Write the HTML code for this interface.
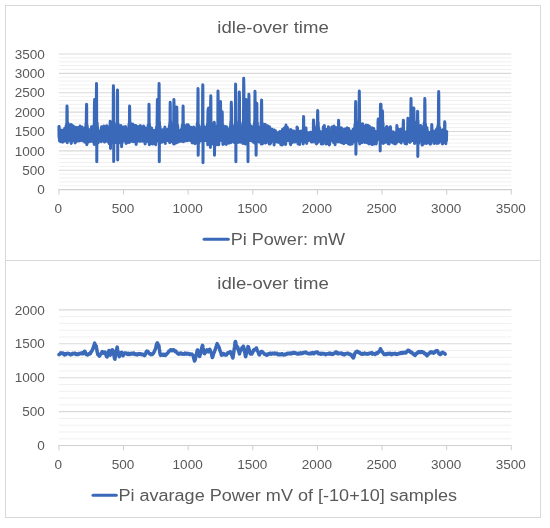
<!DOCTYPE html>
<html lang="en"><head><meta charset="utf-8"><title>idle-over time</title>
<style>html,body{margin:0;padding:0;background:#fff}body{width:550px;height:528px;overflow:hidden;font-family:"Liberation Sans",Arial,sans-serif}svg{display:block}</style>
</head><body>
<svg width="550" height="528" viewBox="0 0 550 528">
<rect width="550" height="528" fill="#fff"/>
<g fill="none" stroke="#d9d9d9" stroke-width="1">
<rect x="5.5" y="5.5" width="535" height="255"/>
<rect x="5.5" y="260.5" width="535" height="257"/>
</g>
<g stroke="#f0f0f0" stroke-width="1">
<line x1="58.9" x2="511.3" y1="185.73" y2="185.73"/>
<line x1="58.9" x2="511.3" y1="181.85" y2="181.85"/>
<line x1="58.9" x2="511.3" y1="177.98" y2="177.98"/>
<line x1="58.9" x2="511.3" y1="174.10" y2="174.10"/>
<line x1="58.9" x2="511.3" y1="166.35" y2="166.35"/>
<line x1="58.9" x2="511.3" y1="162.48" y2="162.48"/>
<line x1="58.9" x2="511.3" y1="158.61" y2="158.61"/>
<line x1="58.9" x2="511.3" y1="154.73" y2="154.73"/>
<line x1="58.9" x2="511.3" y1="146.98" y2="146.98"/>
<line x1="58.9" x2="511.3" y1="143.11" y2="143.11"/>
<line x1="58.9" x2="511.3" y1="139.23" y2="139.23"/>
<line x1="58.9" x2="511.3" y1="135.36" y2="135.36"/>
<line x1="58.9" x2="511.3" y1="127.61" y2="127.61"/>
<line x1="58.9" x2="511.3" y1="123.74" y2="123.74"/>
<line x1="58.9" x2="511.3" y1="119.86" y2="119.86"/>
<line x1="58.9" x2="511.3" y1="115.99" y2="115.99"/>
<line x1="58.9" x2="511.3" y1="108.24" y2="108.24"/>
<line x1="58.9" x2="511.3" y1="104.37" y2="104.37"/>
<line x1="58.9" x2="511.3" y1="100.49" y2="100.49"/>
<line x1="58.9" x2="511.3" y1="96.62" y2="96.62"/>
<line x1="58.9" x2="511.3" y1="88.87" y2="88.87"/>
<line x1="58.9" x2="511.3" y1="84.99" y2="84.99"/>
<line x1="58.9" x2="511.3" y1="81.12" y2="81.12"/>
<line x1="58.9" x2="511.3" y1="77.25" y2="77.25"/>
<line x1="58.9" x2="511.3" y1="69.50" y2="69.50"/>
<line x1="58.9" x2="511.3" y1="65.62" y2="65.62"/>
<line x1="58.9" x2="511.3" y1="61.75" y2="61.75"/>
<line x1="58.9" x2="511.3" y1="57.87" y2="57.87"/>
</g>
<g stroke="#d9d9d9" stroke-width="1.1">
<line x1="58.9" x2="511.3" y1="170.23" y2="170.23"/>
<line x1="58.9" x2="511.3" y1="150.86" y2="150.86"/>
<line x1="58.9" x2="511.3" y1="131.49" y2="131.49"/>
<line x1="58.9" x2="511.3" y1="112.11" y2="112.11"/>
<line x1="58.9" x2="511.3" y1="92.74" y2="92.74"/>
<line x1="58.9" x2="511.3" y1="73.37" y2="73.37"/>
<line x1="58.9" x2="511.3" y1="54.00" y2="54.00"/>
</g>
<g stroke="#d0d0d0" stroke-width="1.1" fill="none">
<line x1="58.4" x2="511.8" y1="189.6" y2="189.6"/>
<line x1="58.90" x2="58.90" y1="189.6" y2="194.4"/>
<line x1="123.53" x2="123.53" y1="189.6" y2="194.4"/>
<line x1="188.16" x2="188.16" y1="189.6" y2="194.4"/>
<line x1="252.79" x2="252.79" y1="189.6" y2="194.4"/>
<line x1="317.41" x2="317.41" y1="189.6" y2="194.4"/>
<line x1="382.04" x2="382.04" y1="189.6" y2="194.4"/>
<line x1="446.67" x2="446.67" y1="189.6" y2="194.4"/>
<line x1="511.30" x2="511.30" y1="189.6" y2="194.4"/>
</g>
<g stroke="#f0f0f0" stroke-width="1">
<line x1="58.9" x2="511.3" y1="438.76" y2="438.76"/>
<line x1="58.9" x2="511.3" y1="431.98" y2="431.98"/>
<line x1="58.9" x2="511.3" y1="425.19" y2="425.19"/>
<line x1="58.9" x2="511.3" y1="418.41" y2="418.41"/>
<line x1="58.9" x2="511.3" y1="404.84" y2="404.84"/>
<line x1="58.9" x2="511.3" y1="398.06" y2="398.06"/>
<line x1="58.9" x2="511.3" y1="391.27" y2="391.27"/>
<line x1="58.9" x2="511.3" y1="384.49" y2="384.49"/>
<line x1="58.9" x2="511.3" y1="370.92" y2="370.92"/>
<line x1="58.9" x2="511.3" y1="364.13" y2="364.13"/>
<line x1="58.9" x2="511.3" y1="357.35" y2="357.35"/>
<line x1="58.9" x2="511.3" y1="350.56" y2="350.56"/>
<line x1="58.9" x2="511.3" y1="336.99" y2="336.99"/>
<line x1="58.9" x2="511.3" y1="330.21" y2="330.21"/>
<line x1="58.9" x2="511.3" y1="323.42" y2="323.42"/>
<line x1="58.9" x2="511.3" y1="316.63" y2="316.63"/>
</g>
<g stroke="#d9d9d9" stroke-width="1.1">
<line x1="58.9" x2="511.3" y1="411.62" y2="411.62"/>
<line x1="58.9" x2="511.3" y1="377.70" y2="377.70"/>
<line x1="58.9" x2="511.3" y1="343.78" y2="343.78"/>
<line x1="58.9" x2="511.3" y1="309.85" y2="309.85"/>
</g>
<g stroke="#d0d0d0" stroke-width="1.1" fill="none">
<line x1="58.4" x2="511.8" y1="445.55" y2="445.55"/>
<line x1="58.90" x2="58.90" y1="445.55" y2="450.35"/>
<line x1="123.53" x2="123.53" y1="445.55" y2="450.35"/>
<line x1="188.16" x2="188.16" y1="445.55" y2="450.35"/>
<line x1="252.79" x2="252.79" y1="445.55" y2="450.35"/>
<line x1="317.41" x2="317.41" y1="445.55" y2="450.35"/>
<line x1="382.04" x2="382.04" y1="445.55" y2="450.35"/>
<line x1="446.67" x2="446.67" y1="445.55" y2="450.35"/>
<line x1="511.30" x2="511.30" y1="445.55" y2="450.35"/>
</g>
<g font-family="'Liberation Sans', Arial, sans-serif" fill="#595959" font-size="13.1">
<text x="44.9" y="194.30" text-anchor="end" textLength="7.55" lengthAdjust="spacingAndGlyphs">0</text>
<text x="44.9" y="174.93" text-anchor="end" textLength="22.6" lengthAdjust="spacingAndGlyphs">500</text>
<text x="44.9" y="155.56" text-anchor="end" textLength="30.2" lengthAdjust="spacingAndGlyphs">1000</text>
<text x="44.9" y="136.19" text-anchor="end" textLength="30.2" lengthAdjust="spacingAndGlyphs">1500</text>
<text x="44.9" y="116.81" text-anchor="end" textLength="30.2" lengthAdjust="spacingAndGlyphs">2000</text>
<text x="44.9" y="97.44" text-anchor="end" textLength="30.2" lengthAdjust="spacingAndGlyphs">2500</text>
<text x="44.9" y="78.07" text-anchor="end" textLength="30.2" lengthAdjust="spacingAndGlyphs">3000</text>
<text x="44.9" y="58.70" text-anchor="end" textLength="30.2" lengthAdjust="spacingAndGlyphs">3500</text>
<text x="44.9" y="450.25" text-anchor="end" textLength="7.55" lengthAdjust="spacingAndGlyphs">0</text>
<text x="44.9" y="416.32" text-anchor="end" textLength="22.6" lengthAdjust="spacingAndGlyphs">500</text>
<text x="44.9" y="382.40" text-anchor="end" textLength="30.2" lengthAdjust="spacingAndGlyphs">1000</text>
<text x="44.9" y="348.48" text-anchor="end" textLength="30.2" lengthAdjust="spacingAndGlyphs">1500</text>
<text x="44.9" y="314.55" text-anchor="end" textLength="30.2" lengthAdjust="spacingAndGlyphs">2000</text>
<text x="54.62" y="212.9" textLength="7.55" lengthAdjust="spacingAndGlyphs">0</text>
<text x="111.73" y="212.9" textLength="22.6" lengthAdjust="spacingAndGlyphs">500</text>
<text x="172.56" y="212.9" textLength="30.2" lengthAdjust="spacingAndGlyphs">1000</text>
<text x="237.19" y="212.9" textLength="30.2" lengthAdjust="spacingAndGlyphs">1500</text>
<text x="301.81" y="212.9" textLength="30.2" lengthAdjust="spacingAndGlyphs">2000</text>
<text x="366.44" y="212.9" textLength="30.2" lengthAdjust="spacingAndGlyphs">2500</text>
<text x="431.07" y="212.9" textLength="30.2" lengthAdjust="spacingAndGlyphs">3000</text>
<text x="495.70" y="212.9" textLength="30.2" lengthAdjust="spacingAndGlyphs">3500</text>
<text x="54.62" y="468.9" textLength="7.55" lengthAdjust="spacingAndGlyphs">0</text>
<text x="111.73" y="468.9" textLength="22.6" lengthAdjust="spacingAndGlyphs">500</text>
<text x="172.56" y="468.9" textLength="30.2" lengthAdjust="spacingAndGlyphs">1000</text>
<text x="237.19" y="468.9" textLength="30.2" lengthAdjust="spacingAndGlyphs">1500</text>
<text x="301.81" y="468.9" textLength="30.2" lengthAdjust="spacingAndGlyphs">2000</text>
<text x="366.44" y="468.9" textLength="30.2" lengthAdjust="spacingAndGlyphs">2500</text>
<text x="431.07" y="468.9" textLength="30.2" lengthAdjust="spacingAndGlyphs">3000</text>
<text x="495.70" y="468.9" textLength="30.2" lengthAdjust="spacingAndGlyphs">3500</text>
</g>
<g font-family="'Liberation Sans', Arial, sans-serif" fill="#595959">
<text x="217.3" y="32.7" font-size="16.7" textLength="111.5" lengthAdjust="spacingAndGlyphs">idle-over time</text>
<text x="217.3" y="288.7" font-size="16.7" textLength="111.5" lengthAdjust="spacingAndGlyphs">idle-over time</text>
<text x="230.7" y="244.6" font-size="15.8" textLength="114.3" lengthAdjust="spacingAndGlyphs">Pi Power: mW</text>
<text x="118.4" y="500.6" font-size="15.8" textLength="338.6" lengthAdjust="spacingAndGlyphs">Pi avarage Power mV of [-10+10] samples</text>
</g>
<g fill="none" stroke="#3b69ba" stroke-linejoin="round" stroke-linecap="round">
<path stroke-width="3" d="M58.9,126.4 59.0,137.1 59.2,126.4 59.3,139.1 59.4,131.2 59.5,140.9 59.7,131.6 59.8,140.0 59.9,134.1 60.1,140.6 60.2,130.1 60.3,140.3 60.5,130.1 60.6,141.7 60.7,131.6 60.8,140.6 61.0,132.6 61.1,138.4 61.2,132.4 61.4,131.2 61.5,130.2 61.6,131.0 61.7,133.8 61.9,139.8 62.0,133.5 62.1,138.7 62.3,133.2 62.4,137.9 62.5,133.0 62.6,142.3 62.8,130.3 62.9,141.0 63.0,132.8 63.2,139.6 63.3,131.4 63.4,140.5 63.6,130.8 63.7,137.0 63.8,131.1 63.9,136.8 64.1,132.8 64.2,141.3 64.3,131.3 64.5,140.0 64.6,128.4 64.7,140.3 64.8,130.8 65.0,140.6 65.1,131.0 65.2,140.2 65.4,130.0 65.5,138.4 65.6,133.9 65.8,141.1 65.9,127.9 66.0,141.0 66.1,125.8 66.3,141.1 66.4,125.8 66.5,137.1 66.7,123.3 66.8,141.0 66.9,112.0 67.0,106.1 67.2,110.5 67.3,142.8 67.4,123.5 67.6,139.0 67.7,122.7 67.8,137.6 67.9,123.1 68.1,135.8 68.2,123.4 68.3,140.1 68.5,126.0 68.6,134.8 68.7,127.2 68.9,139.2 69.0,126.6 69.1,136.5 69.2,131.2 69.4,138.4 69.5,127.6 69.6,140.3 69.8,126.7 69.9,139.9 70.0,126.8 70.1,141.1 70.3,127.0 70.4,140.6 70.5,126.9 70.7,138.8 70.8,130.6 70.9,141.0 71.1,124.6 71.2,143.5 71.3,125.5 71.4,143.0 71.6,124.8 71.7,138.5 71.8,132.4 72.0,140.8 72.1,129.1 72.2,137.6 72.3,127.2 72.5,138.0 72.6,127.5 72.7,140.7 72.9,131.3 73.0,138.7 73.1,126.4 73.2,139.8 73.4,126.0 73.5,137.8 73.6,127.8 73.8,137.1 73.9,131.2 74.0,141.1 74.2,128.2 74.3,138.0 74.4,133.3 74.5,137.7 74.7,128.7 74.8,141.3 74.9,129.3 75.1,142.9 75.2,128.7 75.3,138.7 75.4,127.8 75.6,137.2 75.7,130.1 75.8,140.1 76.0,132.5 76.1,140.5 76.2,127.2 76.3,138.6 76.5,131.5 76.6,138.6 76.7,127.8 76.9,139.8 77.0,132.7 77.1,141.3 77.3,132.0 77.4,140.9 77.5,132.1 77.6,136.7 77.8,129.7 77.9,140.6 78.0,133.4 78.2,129.1 78.3,127.5 78.4,128.7 78.5,128.2 78.7,138.4 78.8,127.8 78.9,139.7 79.1,130.0 79.2,141.0 79.3,134.1 79.5,139.1 79.6,131.1 79.7,137.1 79.8,130.3 80.0,140.7 80.1,126.0 80.2,139.2 80.4,129.3 80.5,140.1 80.6,127.5 80.7,139.6 80.9,134.5 81.0,140.2 81.1,133.8 81.3,140.1 81.4,133.5 81.5,138.2 81.6,134.6 81.8,139.5 81.9,134.6 82.0,128.8 82.2,127.1 82.3,128.3 82.4,131.8 82.6,139.7 82.7,133.3 82.8,140.9 82.9,132.7 83.1,140.7 83.2,133.4 83.3,140.7 83.5,135.3 83.6,140.7 83.7,133.1 83.8,137.7 84.0,132.0 84.1,141.3 84.2,132.1 84.4,138.5 84.5,133.3 84.6,139.0 84.8,135.2 84.9,142.2 85.0,128.2 85.1,139.8 85.3,128.0 85.4,140.2 85.5,127.0 85.7,139.7 85.8,126.1 85.9,140.2 86.0,123.0 86.2,138.3 86.3,120.2 86.4,110.5 86.6,104.2 86.7,108.9 86.8,144.8 86.9,141.4 87.1,125.3 87.2,143.8 87.3,126.4 87.5,141.0 87.6,128.2 87.7,140.6 87.9,132.4 88.0,139.2 88.1,132.2 88.2,141.5 88.4,134.6 88.5,138.7 88.6,134.5 88.8,141.5 88.9,130.5 89.0,141.6 89.1,132.9 89.3,139.3 89.4,131.5 89.5,138.3 89.7,129.8 89.8,141.8 89.9,130.4 90.1,140.6 90.2,131.6 90.3,139.8 90.4,129.5 90.6,136.7 90.7,131.3 90.8,137.8 91.0,130.6 91.1,140.7 91.2,130.3 91.3,136.6 91.5,126.8 91.6,139.3 91.7,127.0 91.9,140.8 92.0,126.8 92.1,140.8 92.2,126.9 92.4,141.5 92.5,131.1 92.6,139.6 92.8,130.5 92.9,138.7 93.0,134.7 93.2,141.6 93.3,132.9 93.4,141.9 93.5,128.0 93.7,140.1 93.8,125.9 93.9,138.4 94.1,124.2 94.2,144.4 94.3,124.9 94.4,106.7 94.6,99.5 94.7,104.9 94.8,119.0 95.0,138.6 95.1,123.4 95.2,139.7 95.4,126.1 95.5,141.1 95.6,127.0 95.7,143.6 95.9,124.8 96.0,142.6 96.1,125.8 96.3,142.7 96.4,93.8 96.5,83.4 96.6,91.2 96.8,161.8 96.9,123.7 97.0,140.2 97.2,122.7 97.3,140.4 97.4,125.8 97.5,140.4 97.7,128.0 97.8,142.0 97.9,133.4 98.1,143.1 98.2,133.5 98.3,139.8 98.5,134.1 98.6,140.0 98.7,135.4 98.8,141.3 99.0,132.8 99.1,138.2 99.2,132.5 99.4,137.8 99.5,132.4 99.6,139.6 99.7,131.0 99.9,138.6 100.0,131.3 100.1,137.2 100.3,132.6 100.4,139.3 100.5,132.4 100.7,139.3 100.8,130.7 100.9,141.6 101.0,136.2 101.2,141.7 101.3,133.5 101.4,128.4 101.6,126.7 101.7,128.0 101.8,133.3 101.9,139.7 102.1,128.6 102.2,137.6 102.3,128.3 102.5,137.1 102.6,131.0 102.7,140.3 102.8,130.2 103.0,140.4 103.1,126.8 103.2,140.1 103.4,128.8 103.5,137.8 103.6,128.3 103.8,138.9 103.9,126.0 104.0,141.3 104.1,126.3 104.3,142.0 104.4,130.7 104.5,140.9 104.7,134.3 104.8,142.1 104.9,129.8 105.0,140.9 105.2,132.1 105.3,128.8 105.4,127.1 105.6,128.3 105.7,134.9 105.8,137.4 105.9,131.4 106.1,139.9 106.2,133.9 106.3,135.9 106.5,131.0 106.6,141.1 106.7,125.7 106.9,137.7 107.0,126.1 107.1,140.3 107.2,132.3 107.4,138.9 107.5,128.4 107.6,137.2 107.8,129.4 107.9,141.5 108.0,128.1 108.1,140.2 108.3,132.5 108.4,142.2 108.5,131.8 108.7,142.3 108.8,132.2 108.9,142.3 109.1,132.4 109.2,143.8 109.3,130.1 109.4,143.3 109.6,135.3 109.7,142.2 109.8,131.4 110.0,142.5 110.1,124.1 110.2,121.3 110.3,123.4 110.5,148.6 110.6,133.8 110.7,138.6 110.9,132.3 111.0,140.9 111.1,133.7 111.2,140.3 111.4,130.8 111.5,140.2 111.6,131.8 111.8,140.0 111.9,132.8 112.0,142.3 112.2,130.8 112.3,138.6 112.4,127.1 112.5,141.0 112.7,125.1 112.8,139.7 112.9,122.8 113.1,141.2 113.2,118.9 113.3,95.7 113.4,85.8 113.6,93.3 113.7,161.4 113.8,138.9 114.0,124.8 114.1,140.1 114.2,126.4 114.4,141.2 114.5,126.8 114.6,139.7 114.7,135.1 114.9,138.9 115.0,133.0 115.1,140.2 115.3,133.3 115.4,141.9 115.5,133.7 115.6,142.4 115.8,134.3 115.9,141.8 116.0,135.0 116.2,139.9 116.3,128.2 116.4,140.1 116.5,125.6 116.7,138.4 116.8,123.1 116.9,139.0 117.1,122.4 117.2,140.4 117.3,99.1 117.5,90.0 117.6,96.8 117.7,159.9 117.8,122.7 118.0,140.6 118.1,123.7 118.2,139.1 118.4,127.1 118.5,143.1 118.6,128.6 118.7,143.2 118.9,134.8 119.0,139.3 119.1,134.3 119.3,142.5 119.4,130.1 119.5,141.2 119.7,131.8 119.8,141.8 119.9,130.3 120.0,140.8 120.2,130.1 120.3,140.2 120.4,129.9 120.6,140.5 120.7,127.3 120.8,139.0 120.9,125.6 121.1,140.9 121.2,130.5 121.3,138.8 121.5,130.2 121.6,146.7 121.7,131.5 121.8,137.0 122.0,133.6 122.1,142.0 122.2,131.9 122.4,142.6 122.5,131.6 122.6,141.4 122.8,134.8 122.9,141.4 123.0,133.5 123.1,141.2 123.3,135.5 123.4,128.8 123.5,127.1 123.7,128.3 123.8,134.0 123.9,137.8 124.0,132.6 124.2,140.2 124.3,132.7 124.4,137.6 124.6,132.6 124.7,139.8 124.8,131.7 125.0,140.3 125.1,129.4 125.2,140.8 125.3,131.6 125.5,137.8 125.6,126.6 125.7,138.1 125.9,130.3 126.0,143.6 126.1,129.2 126.2,143.6 126.4,130.2 126.5,139.1 126.6,131.0 126.8,140.3 126.9,135.1 127.0,142.7 127.1,132.0 127.3,142.5 127.4,132.6 127.5,139.6 127.7,132.2 127.8,139.4 127.9,129.4 128.1,139.5 128.2,129.9 128.3,140.7 128.4,128.7 128.6,139.5 128.7,127.3 128.8,142.6 129.0,123.9 129.1,141.0 129.2,125.9 129.3,142.6 129.5,112.0 129.6,106.1 129.7,110.5 129.9,139.3 130.0,121.7 130.1,141.8 130.2,122.6 130.4,137.8 130.5,127.7 130.6,137.5 130.8,128.6 130.9,137.6 131.0,130.2 131.2,137.3 131.3,128.5 131.4,137.6 131.5,128.3 131.7,139.8 131.8,127.1 131.9,141.2 132.1,127.3 132.2,141.0 132.3,130.7 132.4,136.2 132.6,130.9 132.7,141.3 132.8,124.1 133.0,141.7 133.1,126.0 133.2,138.2 133.4,125.8 133.5,135.5 133.6,124.9 133.7,138.8 133.9,128.5 134.0,137.0 134.1,128.6 134.3,140.9 134.4,128.7 134.5,141.6 134.6,125.6 134.8,141.4 134.9,125.4 135.0,140.2 135.2,125.6 135.3,138.9 135.4,127.9 135.5,140.6 135.7,126.8 135.8,140.6 135.9,125.6 136.1,144.4 136.2,128.6 136.3,144.3 136.5,128.4 136.6,138.3 136.7,127.5 136.8,140.5 137.0,128.2 137.1,137.1 137.2,128.7 137.4,140.6 137.5,128.6 137.6,137.8 137.7,126.6 137.9,140.8 138.0,126.9 138.1,139.0 138.3,129.1 138.4,140.8 138.5,129.6 138.7,139.3 138.8,129.1 138.9,141.2 139.0,127.9 139.2,139.8 139.3,129.5 139.4,138.6 139.6,128.1 139.7,140.5 139.8,132.7 139.9,141.2 140.1,125.8 140.2,138.7 140.3,130.9 140.5,141.3 140.6,125.7 140.7,138.5 140.8,130.7 141.0,137.2 141.1,130.8 141.2,141.0 141.4,130.1 141.5,128.8 141.6,127.1 141.8,128.3 141.9,129.0 142.0,139.0 142.1,131.9 142.3,141.3 142.4,129.5 142.5,140.6 142.7,132.7 142.8,140.9 142.9,132.6 143.0,140.5 143.2,134.5 143.3,138.9 143.4,134.8 143.6,140.7 143.7,126.0 143.8,136.1 144.0,126.9 144.1,136.4 144.2,132.0 144.3,139.9 144.5,131.8 144.6,142.0 144.7,129.8 144.9,142.9 145.0,131.4 145.1,144.1 145.2,132.7 145.4,129.4 145.5,127.9 145.6,129.0 145.8,135.2 145.9,138.6 146.0,134.1 146.1,139.5 146.3,133.8 146.4,140.5 146.5,133.0 146.7,141.3 146.8,133.9 146.9,141.3 147.1,132.1 147.2,141.5 147.3,135.7 147.4,140.7 147.6,132.7 147.7,140.1 147.8,127.9 148.0,138.8 148.1,125.3 148.2,140.1 148.3,126.2 148.5,140.0 148.6,123.9 148.7,140.7 148.9,110.5 149.0,104.2 149.1,108.9 149.3,144.8 149.4,123.4 149.5,140.9 149.6,124.8 149.8,142.7 149.9,127.1 150.0,141.1 150.2,128.6 150.3,143.9 150.4,137.1 150.5,140.9 150.7,132.7 150.8,139.9 150.9,129.8 151.1,140.5 151.2,131.1 151.3,140.2 151.4,130.3 151.6,140.5 151.7,128.0 151.8,135.9 152.0,130.7 152.1,141.4 152.2,130.6 152.4,141.3 152.5,132.3 152.6,144.0 152.7,133.2 152.9,144.1 153.0,131.3 153.1,141.8 153.3,130.4 153.4,138.4 153.5,130.8 153.6,137.5 153.8,132.5 153.9,141.2 154.0,133.6 154.2,141.6 154.3,133.0 154.4,140.2 154.6,130.7 154.7,138.7 154.8,130.6 154.9,138.2 155.1,136.0 155.2,140.5 155.3,136.3 155.5,142.2 155.6,135.0 155.7,144.7 155.8,131.4 156.0,137.7 156.1,130.3 156.2,141.0 156.4,128.1 156.5,141.2 156.6,126.7 156.7,139.7 156.9,125.9 157.0,140.5 157.1,121.2 157.3,106.7 157.4,99.5 157.5,104.9 157.7,123.6 157.8,139.3 157.9,122.3 158.0,138.6 158.2,124.8 158.3,141.2 158.4,122.9 158.6,140.9 158.7,122.6 158.8,140.7 158.9,93.8 159.1,83.4 159.2,91.2 159.3,161.8 159.5,121.8 159.6,140.6 159.7,125.2 159.8,139.1 160.0,125.9 160.1,139.9 160.2,128.5 160.4,138.6 160.5,132.7 160.6,138.4 160.8,134.7 160.9,141.3 161.0,133.8 161.1,141.6 161.3,133.4 161.4,142.2 161.5,136.5 161.7,142.1 161.8,134.3 161.9,142.3 162.0,135.8 162.2,139.0 162.3,130.7 162.4,139.9 162.6,132.2 162.7,139.6 162.8,129.7 163.0,138.9 163.1,132.8 163.2,138.6 163.3,135.2 163.5,141.4 163.6,132.8 163.7,139.9 163.9,133.0 164.0,138.6 164.1,135.4 164.2,137.8 164.4,135.0 164.5,141.3 164.6,135.0 164.8,128.8 164.9,127.1 165.0,128.3 165.1,131.8 165.3,143.5 165.4,133.3 165.5,140.7 165.7,130.7 165.8,139.1 165.9,130.8 166.1,140.5 166.2,131.3 166.3,140.6 166.4,129.5 166.6,140.6 166.7,133.1 166.8,139.4 167.0,130.9 167.1,137.0 167.2,131.5 167.3,138.3 167.5,129.5 167.6,140.4 167.7,135.0 167.9,138.5 168.0,133.9 168.1,138.5 168.3,133.9 168.4,138.3 168.5,132.9 168.6,140.3 168.8,131.7 168.9,140.4 169.0,128.0 169.2,139.6 169.3,125.7 169.4,141.5 169.5,126.4 169.7,142.7 169.8,122.4 169.9,141.6 170.1,108.9 170.2,102.3 170.3,107.3 170.4,139.8 170.6,121.1 170.7,140.4 170.8,123.5 171.0,138.8 171.1,127.2 171.2,140.6 171.4,128.6 171.5,139.9 171.6,131.9 171.7,140.3 171.9,128.2 172.0,141.8 172.1,130.3 172.3,137.8 172.4,134.4 172.5,139.9 172.6,135.7 172.8,139.7 172.9,127.1 173.0,140.3 173.2,125.4 173.3,137.8 173.4,125.7 173.6,143.9 173.7,124.1 173.8,106.7 173.9,99.5 174.1,104.9 174.2,124.7 174.3,143.9 174.5,123.1 174.6,140.8 174.7,126.5 174.8,140.9 175.0,127.8 175.1,138.9 175.2,131.4 175.4,141.0 175.5,131.0 175.6,141.6 175.7,127.5 175.9,142.1 176.0,125.5 176.1,142.9 176.3,122.7 176.4,142.7 176.5,125.2 176.7,112.7 176.8,107.1 176.9,111.3 177.0,123.9 177.2,141.8 177.3,124.9 177.4,141.7 177.6,125.1 177.7,142.2 177.8,127.1 177.9,142.2 178.1,132.9 178.2,139.2 178.3,131.6 178.5,140.6 178.6,132.1 178.7,140.7 178.9,132.2 179.0,139.6 179.1,130.6 179.2,141.4 179.4,131.3 179.5,140.7 179.6,132.2 179.8,137.6 179.9,131.5 180.0,138.4 180.1,131.7 180.3,139.8 180.4,133.3 180.5,139.9 180.7,131.1 180.8,141.2 180.9,130.2 181.0,140.2 181.2,129.7 181.3,141.3 181.4,129.6 181.6,141.2 181.7,130.4 181.8,140.2 182.0,128.2 182.1,139.8 182.2,125.5 182.3,140.9 182.5,126.0 182.6,136.4 182.7,124.1 182.9,140.6 183.0,112.0 183.1,106.1 183.2,110.5 183.4,141.8 183.5,125.0 183.6,138.3 183.8,124.6 183.9,139.8 184.0,125.8 184.2,139.2 184.3,128.0 184.4,140.4 184.5,125.7 184.7,134.9 184.8,126.9 184.9,140.6 185.1,127.9 185.2,141.0 185.3,128.1 185.4,140.0 185.6,129.9 185.7,140.3 185.8,127.7 186.0,135.0 186.1,130.6 186.2,134.5 186.3,130.5 186.5,139.7 186.6,129.2 186.7,140.1 186.9,126.0 187.0,140.8 187.1,124.8 187.3,137.6 187.4,129.5 187.5,140.7 187.6,125.6 187.8,140.2 187.9,130.4 188.0,126.9 188.2,124.8 188.3,126.4 188.4,132.6 188.5,137.4 188.7,125.7 188.8,140.3 188.9,125.9 189.1,139.2 189.2,126.5 189.3,138.2 189.4,128.2 189.6,139.8 189.7,131.5 189.8,136.5 190.0,131.3 190.1,140.5 190.2,131.7 190.4,138.7 190.5,127.4 190.6,140.3 190.7,129.4 190.9,139.0 191.0,130.0 191.1,141.1 191.3,127.3 191.4,139.6 191.5,128.7 191.6,140.4 191.8,132.7 191.9,139.4 192.0,132.1 192.2,143.0 192.3,130.9 192.4,141.5 192.6,131.4 192.7,142.0 192.8,128.2 192.9,140.7 193.1,129.3 193.2,140.8 193.3,130.4 193.5,142.4 193.6,129.2 193.7,139.2 193.8,127.1 194.0,142.0 194.1,130.0 194.2,142.9 194.4,130.8 194.5,138.6 194.6,129.8 194.7,141.4 194.9,132.0 195.0,143.7 195.1,136.8 195.3,140.2 195.4,132.8 195.5,141.9 195.7,135.0 195.8,142.8 195.9,132.9 196.0,142.2 196.2,132.7 196.3,142.8 196.4,133.4 196.6,141.1 196.7,132.3 196.8,140.8 196.9,127.0 197.1,140.4 197.2,124.0 197.3,140.4 197.5,122.3 197.6,138.1 197.7,123.3 197.9,97.9 198.0,88.5 198.1,95.5 198.2,155.2 198.4,139.7 198.5,126.1 198.6,140.4 198.8,125.2 198.9,141.7 199.0,128.1 199.1,142.4 199.3,135.5 199.4,140.5 199.5,133.5 199.7,139.0 199.8,134.6 199.9,140.7 200.0,131.9 200.2,139.3 200.3,133.3 200.4,140.6 200.6,134.5 200.7,137.9 200.8,133.9 201.0,140.2 201.1,134.7 201.2,138.6 201.3,133.6 201.5,140.4 201.6,128.7 201.7,139.6 201.9,126.5 202.0,138.0 202.1,126.2 202.2,139.8 202.4,120.3 202.5,138.7 202.6,94.8 202.8,84.7 202.9,92.3 203.0,162.8 203.2,124.7 203.3,139.1 203.4,126.3 203.5,139.8 203.7,126.5 203.8,139.1 203.9,128.3 204.1,140.6 204.2,132.6 204.3,136.8 204.4,133.2 204.6,140.4 204.7,133.5 204.8,140.0 205.0,134.5 205.1,139.0 205.2,134.9 205.3,138.9 205.5,132.6 205.6,139.4 205.7,134.2 205.9,139.9 206.0,135.4 206.1,140.6 206.3,126.9 206.4,136.3 206.5,129.5 206.6,138.5 206.8,127.7 206.9,137.3 207.0,127.6 207.2,140.7 207.3,124.9 207.4,139.2 207.5,123.7 207.7,144.8 207.8,120.2 207.9,114.5 208.1,109.3 208.2,113.2 208.3,122.2 208.5,113.5 208.6,108.0 208.7,112.1 208.8,120.2 209.0,139.0 209.1,124.5 209.2,140.3 209.4,125.8 209.5,137.4 209.6,126.7 209.7,137.6 209.9,126.2 210.0,138.9 210.1,126.4 210.3,140.9 210.4,147.6 210.5,140.0 210.6,103.6 210.8,95.7 210.9,101.6 211.0,137.4 211.2,125.7 211.3,137.5 211.4,122.7 211.6,144.3 211.7,125.4 211.8,140.6 211.9,128.6 212.1,141.1 212.2,134.7 212.3,144.0 212.5,134.4 212.6,138.2 212.7,133.9 212.8,141.1 213.0,133.2 213.1,140.1 213.2,133.7 213.4,140.7 213.5,135.5 213.6,138.9 213.8,133.5 213.9,141.0 214.0,132.5 214.1,124.9 214.3,122.3 214.4,124.2 214.5,155.2 214.7,138.7 214.8,134.9 214.9,140.5 215.0,133.3 215.2,138.5 215.3,132.0 215.4,139.4 215.6,132.3 215.7,139.7 215.8,131.9 215.9,142.5 216.1,134.1 216.2,143.8 216.3,136.4 216.5,141.6 216.6,135.1 216.7,139.8 216.9,128.3 217.0,144.7 217.1,126.2 217.2,140.6 217.4,125.6 217.5,138.9 217.6,125.5 217.8,138.1 217.9,99.8 218.0,91.0 218.1,97.6 218.3,141.6 218.4,123.3 218.5,143.9 218.7,126.5 218.8,144.7 218.9,126.8 219.0,140.4 219.2,128.6 219.3,138.0 219.4,126.6 219.6,138.3 219.7,127.1 219.8,138.6 220.0,124.9 220.1,139.3 220.2,120.2 220.3,108.2 220.5,101.4 220.6,106.5 220.7,124.7 220.9,138.8 221.0,126.0 221.1,140.6 221.2,126.7 221.4,140.4 221.5,126.1 221.6,138.0 221.8,121.3 221.9,140.7 222.0,116.5 222.2,111.8 222.3,115.3 222.4,137.3 222.5,125.2 222.7,140.6 222.8,125.8 222.9,144.5 223.1,125.3 223.2,137.6 223.3,127.0 223.4,144.1 223.6,126.3 223.7,140.7 223.8,134.3 224.0,139.8 224.1,132.7 224.2,138.3 224.3,132.9 224.5,139.6 224.6,132.7 224.7,138.5 224.9,132.6 225.0,140.6 225.1,133.1 225.3,139.9 225.4,130.6 225.5,138.0 225.6,144.0 225.8,139.3 225.9,126.4 226.0,143.8 226.2,129.3 226.3,144.6 226.4,129.2 226.5,144.0 226.7,130.0 226.8,128.8 226.9,127.1 227.1,128.3 227.2,135.3 227.3,142.3 227.5,135.7 227.6,142.9 227.7,132.1 227.8,143.3 228.0,132.3 228.1,140.5 228.2,133.0 228.4,138.6 228.5,130.8 228.6,140.6 228.7,130.7 228.9,142.9 229.0,129.2 229.1,140.5 229.3,131.3 229.4,142.8 229.5,129.7 229.6,143.0 229.8,131.8 229.9,142.7 230.0,134.6 230.2,142.3 230.3,127.8 230.4,139.5 230.6,124.8 230.7,142.8 230.8,121.8 230.9,142.1 231.1,119.3 231.2,108.9 231.3,102.3 231.5,107.3 231.6,118.9 231.7,139.5 231.8,123.3 232.0,141.2 232.1,126.3 232.2,138.6 232.4,127.4 232.5,140.9 232.6,132.1 232.8,141.4 232.9,127.5 233.0,138.8 233.1,128.6 233.3,141.9 233.4,131.2 233.5,141.8 233.7,127.8 233.8,140.7 233.9,132.7 234.0,138.5 234.2,132.5 234.3,142.4 234.4,128.1 234.6,140.2 234.7,125.9 234.8,137.3 234.9,126.3 235.1,140.6 235.2,124.8 235.3,139.6 235.5,94.2 235.6,83.9 235.7,91.7 235.9,161.8 236.0,121.1 236.1,138.5 236.2,125.4 236.4,139.9 236.5,127.1 236.6,137.0 236.8,128.1 236.9,140.2 237.0,128.9 237.1,140.4 237.3,129.6 237.4,136.2 237.5,128.2 237.7,142.1 237.8,133.9 237.9,138.3 238.1,128.5 238.2,142.6 238.3,127.4 238.4,140.3 238.6,123.9 238.7,139.2 238.8,125.6 239.0,140.1 239.1,119.6 239.2,100.6 239.3,91.9 239.5,98.4 239.6,124.3 239.7,141.5 239.9,122.6 240.0,139.0 240.1,126.1 240.2,142.1 240.4,127.9 240.5,142.2 240.6,130.5 240.8,142.1 240.9,130.3 241.0,141.6 241.2,136.1 241.3,141.0 241.4,132.9 241.5,141.2 241.7,133.7 241.8,138.4 241.9,134.9 242.1,140.2 242.2,131.8 242.3,139.4 242.4,132.7 242.6,142.0 242.7,127.5 242.8,143.5 243.0,124.5 243.1,142.6 243.2,122.0 243.3,141.8 243.5,121.5 243.6,89.7 243.7,78.3 243.9,86.9 244.0,120.2 244.1,138.1 244.3,123.3 244.4,140.7 244.5,124.2 244.6,140.8 244.8,126.6 244.9,140.9 245.0,127.7 245.2,144.0 245.3,124.4 245.4,143.1 245.5,122.2 245.7,143.9 245.8,123.6 245.9,106.7 246.1,99.5 246.2,104.9 246.3,122.9 246.5,139.0 246.6,124.6 246.7,137.1 246.8,126.0 247.0,136.9 247.1,128.0 247.2,140.6 247.4,134.3 247.5,141.5 247.6,132.4 247.7,141.5 247.9,127.8 248.0,161.8 248.1,124.2 248.3,138.0 248.4,124.3 248.5,139.5 248.6,121.1 248.8,102.4 248.9,94.2 249.0,100.4 249.2,120.3 249.3,139.5 249.4,125.1 249.6,139.0 249.7,124.2 249.8,140.5 249.9,126.9 250.1,140.0 250.2,131.8 250.3,138.5 250.5,132.0 250.6,137.5 250.7,133.0 250.8,139.7 251.0,131.0 251.1,140.7 251.2,126.2 251.4,138.9 251.5,132.6 251.6,140.2 251.8,132.9 251.9,139.1 252.0,134.2 252.1,141.0 252.3,133.0 252.4,137.2 252.5,132.4 252.7,139.8 252.8,130.5 252.9,138.4 253.0,131.3 253.2,142.1 253.3,131.9 253.4,141.6 253.6,133.8 253.7,139.1 253.8,127.9 253.9,141.3 254.1,125.9 254.2,139.0 254.3,123.6 254.5,141.6 254.6,121.1 254.7,143.3 254.9,100.2 255.0,91.3 255.1,97.9 255.2,141.2 255.4,123.6 255.5,140.6 255.6,123.3 255.8,144.6 255.9,125.7 256.0,139.3 256.1,155.2 256.3,140.3 256.4,120.9 256.5,140.6 256.7,109.7 256.8,103.3 256.9,108.1 257.1,140.6 257.2,125.1 257.3,138.6 257.4,122.8 257.6,138.0 257.7,125.9 257.8,139.3 258.0,128.1 258.1,139.6 258.2,132.1 258.3,140.7 258.5,131.1 258.6,137.2 258.7,131.7 258.9,142.0 259.0,128.1 259.1,138.7 259.2,128.6 259.4,139.2 259.5,128.8 259.6,139.4 259.8,136.1 259.9,142.1 260.0,132.9 260.2,140.7 260.3,134.3 260.4,139.9 260.5,127.1 260.7,142.4 260.8,127.1 260.9,140.6 261.1,121.9 261.2,144.0 261.3,121.7 261.4,107.0 261.6,99.9 261.7,105.2 261.8,123.1 262.0,141.9 262.1,122.4 262.2,144.1 262.4,124.2 262.5,143.1 262.6,124.8 262.7,143.0 262.9,131.2 263.0,142.6 263.1,126.5 263.3,143.2 263.4,126.3 263.5,135.5 263.6,125.2 263.8,136.2 263.9,126.2 264.0,141.2 264.2,125.7 264.3,141.4 264.4,124.7 264.5,142.2 264.7,127.6 264.8,142.3 264.9,124.6 265.1,137.3 265.2,124.3 265.3,142.9 265.5,126.0 265.6,143.0 265.7,126.3 265.8,140.4 266.0,127.6 266.1,142.7 266.2,126.7 266.4,140.7 266.5,128.6 266.6,140.3 266.7,130.5 266.9,138.7 267.0,126.6 267.1,141.5 267.3,129.2 267.4,138.6 267.5,125.7 267.7,137.0 267.8,129.7 267.9,139.3 268.0,128.0 268.2,140.3 268.3,127.6 268.4,140.9 268.6,131.6 268.7,140.5 268.8,130.1 268.9,139.6 269.1,130.1 269.2,144.1 269.3,129.8 269.5,137.7 269.6,126.7 269.7,139.7 269.8,131.1 270.0,143.8 270.1,129.5 270.2,143.9 270.4,131.9 270.5,141.3 270.6,130.0 270.8,142.9 270.9,131.9 271.0,141.0 271.1,133.9 271.3,141.1 271.4,130.8 271.5,140.8 271.7,132.1 271.8,140.6 271.9,128.9 272.0,140.4 272.2,129.3 272.3,140.0 272.4,134.8 272.6,140.7 272.7,131.0 272.8,141.0 272.9,134.0 273.1,140.8 273.2,132.4 273.3,138.8 273.5,134.5 273.6,141.0 273.7,132.4 273.9,138.7 274.0,132.4 274.1,145.0 274.2,130.1 274.4,141.3 274.5,130.2 274.6,139.8 274.8,130.6 274.9,141.6 275.0,131.4 275.1,140.2 275.3,134.0 275.4,139.9 275.5,130.7 275.7,139.7 275.8,132.3 275.9,137.8 276.1,131.9 276.2,141.9 276.3,133.7 276.4,139.2 276.6,132.8 276.7,140.3 276.8,132.7 277.0,140.6 277.1,135.3 277.2,138.7 277.3,132.8 277.5,140.5 277.6,135.6 277.7,140.6 277.9,133.0 278.0,140.8 278.1,134.2 278.2,139.4 278.4,132.7 278.5,142.5 278.6,134.3 278.8,140.6 278.9,132.8 279.0,140.6 279.2,133.4 279.3,139.7 279.4,133.1 279.5,140.8 279.7,132.5 279.8,139.5 279.9,131.6 280.1,138.6 280.2,133.1 280.3,140.7 280.4,132.7 280.6,140.6 280.7,132.8 280.8,144.7 281.0,133.2 281.1,143.2 281.2,132.6 281.4,143.3 281.5,132.2 281.6,143.8 281.7,137.1 281.9,143.7 282.0,131.3 282.1,145.0 282.3,130.8 282.4,143.9 282.5,129.5 282.6,143.2 282.8,129.3 282.9,139.7 283.0,131.9 283.2,140.4 283.3,132.4 283.4,142.8 283.5,133.1 283.7,142.8 283.8,144.0 283.9,142.7 284.1,131.0 284.2,138.2 284.3,128.0 284.5,140.4 284.6,132.4 284.7,140.8 284.8,128.5 285.0,144.3 285.1,132.3 285.2,143.8 285.4,135.9 285.5,144.1 285.6,132.7 285.7,144.4 285.9,127.1 286.0,125.1 286.1,126.6 286.3,140.0 286.4,133.7 286.5,137.1 286.7,133.0 286.8,139.2 286.9,131.8 287.0,140.4 287.2,131.8 287.3,140.6 287.4,127.2 287.6,140.4 287.7,129.1 287.8,140.6 287.9,130.2 288.1,136.4 288.2,129.6 288.3,139.6 288.5,134.3 288.6,138.1 288.7,132.7 288.8,140.6 289.0,135.6 289.1,140.5 289.2,133.2 289.4,139.8 289.5,133.0 289.6,140.8 289.8,132.6 289.9,140.5 290.0,133.3 290.1,137.8 290.3,144.0 290.4,142.0 290.5,130.9 290.7,144.8 290.8,129.4 290.9,142.1 291.0,131.3 291.2,139.4 291.3,130.8 291.4,138.1 291.6,131.9 291.7,139.5 291.8,134.5 292.0,142.8 292.1,133.9 292.2,141.6 292.3,136.2 292.5,141.1 292.6,131.0 292.7,141.7 292.9,134.4 293.0,140.5 293.1,131.0 293.2,138.8 293.4,132.1 293.5,140.5 293.6,130.9 293.8,139.5 293.9,132.0 294.0,141.9 294.1,131.8 294.3,141.9 294.4,131.9 294.5,138.7 294.7,132.4 294.8,139.7 294.9,133.6 295.1,141.9 295.2,133.0 295.3,140.1 295.4,134.9 295.6,141.2 295.7,132.0 295.8,141.3 296.0,131.6 296.1,139.8 296.2,131.7 296.3,139.4 296.5,132.1 296.6,140.3 296.7,133.7 296.9,135.3 297.0,127.1 297.1,140.6 297.3,129.8 297.4,140.0 297.5,127.7 297.6,136.8 297.8,129.7 297.9,142.8 298.0,144.0 298.2,138.6 298.3,132.6 298.4,143.6 298.5,131.7 298.7,143.5 298.8,131.3 298.9,142.3 299.1,133.0 299.2,144.3 299.3,133.6 299.4,141.2 299.6,134.3 299.7,144.4 299.8,132.7 300.0,140.7 300.1,135.5 300.2,138.3 300.4,134.2 300.5,136.7 300.6,132.9 300.7,140.5 300.9,131.3 301.0,140.8 301.1,131.3 301.3,138.6 301.4,131.3 301.5,139.9 301.6,132.9 301.8,141.3 301.9,134.6 302.0,140.8 302.2,134.7 302.3,140.0 302.4,131.8 302.5,141.0 302.7,132.0 302.8,140.5 302.9,131.0 303.1,139.7 303.2,144.0 303.3,140.0 303.5,120.3 303.6,116.6 303.7,119.4 303.8,138.3 304.0,133.5 304.1,139.6 304.2,130.1 304.4,139.7 304.5,130.1 304.6,139.4 304.7,131.0 304.9,136.8 305.0,134.1 305.1,140.8 305.3,131.1 305.4,140.6 305.5,130.0 305.7,142.3 305.8,127.9 305.9,141.4 306.0,128.0 306.2,140.6 306.3,131.2 306.4,142.8 306.6,134.8 306.7,143.5 306.8,134.7 306.9,141.9 307.1,136.0 307.2,141.1 307.3,133.6 307.5,140.3 307.6,135.4 307.7,138.2 307.8,134.1 308.0,140.2 308.1,133.1 308.2,138.8 308.4,135.4 308.5,140.6 308.6,134.4 308.8,139.9 308.9,135.6 309.0,140.5 309.1,135.5 309.3,139.8 309.4,132.7 309.5,140.2 309.7,135.5 309.8,139.3 309.9,134.0 310.0,138.0 310.2,134.9 310.3,139.7 310.4,134.1 310.6,139.4 310.7,132.3 310.8,140.7 311.0,132.2 311.1,139.2 311.2,134.1 311.3,141.9 311.5,134.6 311.6,138.5 311.7,133.9 311.9,142.0 312.0,132.2 312.1,139.7 312.2,134.7 312.4,139.3 312.5,135.0 312.6,140.5 312.8,132.4 312.9,138.7 313.0,134.0 313.1,141.9 313.3,134.5 313.4,123.1 313.5,120.0 313.7,122.3 313.8,133.9 313.9,137.8 314.1,131.9 314.2,140.1 314.3,129.7 314.4,140.1 314.6,128.3 314.7,138.0 314.8,131.1 315.0,140.5 315.1,134.5 315.2,140.6 315.3,134.7 315.5,140.1 315.6,129.8 315.7,138.4 315.9,131.5 316.0,143.6 316.1,131.8 316.3,140.1 316.4,131.0 316.5,143.9 316.6,127.9 316.8,142.2 316.9,126.1 317.0,141.9 317.2,125.1 317.3,143.1 317.4,124.8 317.5,115.5 317.7,110.5 317.8,114.2 317.9,125.3 318.1,138.8 318.2,122.3 318.3,142.1 318.4,126.5 318.6,137.2 318.7,128.1 318.8,140.6 319.0,130.9 319.1,138.5 319.2,133.0 319.4,140.2 319.5,133.9 319.6,140.8 319.7,134.3 319.9,137.8 320.0,131.5 320.1,138.9 320.3,131.4 320.4,139.4 320.5,132.0 320.6,138.1 320.8,135.3 320.9,140.6 321.0,133.9 321.2,138.5 321.3,144.0 321.4,140.6 321.6,132.5 321.7,138.9 321.8,133.5 321.9,139.5 322.1,135.2 322.2,143.0 322.3,136.4 322.5,141.3 322.6,136.6 322.7,144.0 322.8,132.7 323.0,138.5 323.1,132.2 323.2,128.4 323.4,126.7 323.5,128.0 323.6,134.9 323.7,138.9 323.9,132.5 324.0,138.7 324.1,133.1 324.3,140.0 324.4,125.6 324.5,140.8 324.7,131.4 324.8,140.9 324.9,130.7 325.0,138.8 325.2,132.0 325.3,140.4 325.4,131.8 325.6,139.4 325.7,135.0 325.8,144.1 325.9,129.6 326.1,140.4 326.2,132.1 326.3,144.1 326.5,130.8 326.6,143.8 326.7,130.4 326.9,137.0 327.0,129.2 327.1,140.6 327.2,133.4 327.4,140.4 327.5,132.1 327.6,139.1 327.8,132.1 327.9,136.8 328.0,135.2 328.1,141.0 328.3,128.4 328.4,126.7 328.5,128.0 328.7,139.5 328.8,132.3 328.9,141.4 329.0,132.5 329.2,144.9 329.3,135.5 329.4,140.3 329.6,132.7 329.7,144.4 329.8,131.3 330.0,139.5 330.1,134.5 330.2,138.1 330.3,133.4 330.5,140.7 330.6,132.4 330.7,139.2 330.9,135.1 331.0,138.9 331.1,135.2 331.2,139.8 331.4,132.5 331.5,138.7 331.6,127.5 331.8,140.5 331.9,126.9 332.0,140.7 332.1,130.7 332.3,137.3 332.4,131.3 332.5,139.9 332.7,132.5 332.8,140.0 332.9,132.6 333.1,140.0 333.2,133.8 333.3,141.5 333.4,136.8 333.6,142.7 333.7,134.3 333.8,127.8 334.0,125.9 334.1,127.4 334.2,134.9 334.3,141.7 334.5,132.7 334.6,141.9 334.7,134.9 334.9,140.8 335.0,135.6 335.1,144.7 335.3,129.5 335.4,139.3 335.5,133.0 335.6,141.0 335.8,130.7 335.9,140.3 336.0,127.8 336.2,140.6 336.3,131.6 336.4,139.7 336.5,130.2 336.7,137.3 336.8,128.2 336.9,137.0 337.1,131.0 337.2,140.6 337.3,127.6 337.4,140.3 337.6,127.5 337.7,140.0 337.8,130.9 338.0,142.1 338.1,132.6 338.2,141.5 338.4,132.3 338.5,123.3 338.6,120.3 338.7,122.6 338.9,133.3 339.0,139.8 339.1,129.9 339.3,140.4 339.4,130.2 339.5,141.8 339.6,132.6 339.8,140.5 339.9,132.7 340.0,140.7 340.2,135.5 340.3,141.5 340.4,130.0 340.6,136.9 340.7,128.1 340.8,139.7 340.9,131.1 341.1,138.7 341.2,127.7 341.3,142.7 341.5,130.4 341.6,136.7 341.7,127.9 341.8,140.4 342.0,133.2 342.1,138.0 342.2,132.1 342.4,137.7 342.5,133.8 342.6,140.6 342.7,132.5 342.9,143.0 343.0,133.2 343.1,143.1 343.3,136.5 343.4,142.0 343.5,135.4 343.7,143.8 343.8,134.0 343.9,136.6 344.0,129.6 344.2,141.2 344.3,130.2 344.4,141.2 344.6,132.1 344.7,141.3 344.8,129.0 344.9,138.9 345.1,130.5 345.2,138.3 345.3,131.9 345.5,142.3 345.6,132.7 345.7,142.7 345.9,135.9 346.0,138.8 346.1,132.7 346.2,139.7 346.4,130.7 346.5,138.7 346.6,128.6 346.8,140.7 346.9,129.8 347.0,140.1 347.1,128.0 347.3,135.7 347.4,128.0 347.5,140.5 347.7,132.5 347.8,138.3 347.9,133.4 348.0,139.9 348.2,132.9 348.3,140.8 348.4,144.0 348.6,143.4 348.7,128.6 348.8,143.8 349.0,130.1 349.1,143.0 349.2,129.7 349.3,142.4 349.5,133.2 349.6,143.5 349.7,135.0 349.9,142.4 350.0,135.2 350.1,144.5 350.2,132.7 350.4,140.2 350.5,133.3 350.6,140.6 350.8,132.9 350.9,137.7 351.0,133.9 351.2,140.2 351.3,131.5 351.4,143.1 351.5,133.6 351.7,144.0 351.8,135.2 351.9,144.0 352.1,133.3 352.2,143.9 352.3,135.8 352.4,140.5 352.6,131.5 352.7,138.1 352.8,132.1 353.0,139.4 353.1,129.2 353.2,137.9 353.3,131.4 353.5,138.7 353.6,135.6 353.7,140.1 353.9,134.1 354.0,140.4 354.1,135.3 354.3,139.1 354.4,132.8 354.5,140.5 354.6,127.8 354.8,137.5 354.9,124.8 355.0,142.2 355.2,125.4 355.3,141.1 355.4,122.3 355.5,108.2 355.7,101.4 355.8,106.5 355.9,154.2 356.1,140.5 356.2,121.5 356.3,140.6 356.4,126.2 356.6,140.2 356.7,127.2 356.8,140.3 357.0,134.0 357.1,140.6 357.2,134.0 357.4,140.4 357.5,133.2 357.6,139.9 357.7,134.4 357.9,140.8 358.0,131.9 358.1,137.9 358.3,126.7 358.4,139.7 358.5,125.7 358.6,137.9 358.8,121.8 358.9,139.1 359.0,120.4 359.2,99.8 359.3,91.0 359.4,97.6 359.6,119.5 359.7,144.1 359.8,123.4 359.9,141.0 360.1,126.9 360.2,136.4 360.3,127.0 360.5,139.6 360.6,126.8 360.7,141.6 360.8,124.1 361.0,141.2 361.1,124.3 361.2,140.1 361.4,124.4 361.5,140.7 361.6,125.3 361.7,141.9 361.9,128.3 362.0,142.8 362.1,125.3 362.3,139.9 362.4,130.3 362.5,135.4 362.7,123.8 362.8,139.0 362.9,125.8 363.0,140.6 363.2,125.4 363.3,140.2 363.4,130.6 363.6,140.1 363.7,127.0 363.8,134.6 363.9,126.2 364.1,141.6 364.2,126.0 364.3,141.6 364.5,129.9 364.6,142.2 364.7,129.2 364.9,142.4 365.0,125.9 365.1,142.5 365.2,126.6 365.4,140.7 365.5,126.2 365.6,137.2 365.8,126.4 365.9,137.2 366.0,127.7 366.1,136.8 366.3,124.9 366.4,140.7 366.5,128.7 366.7,140.8 366.8,125.5 366.9,136.6 367.0,127.3 367.2,136.4 367.3,128.3 367.4,143.1 367.6,127.1 367.7,143.1 367.8,129.8 368.0,139.0 368.1,125.6 368.2,137.1 368.3,133.4 368.5,140.2 368.6,127.6 368.7,143.1 368.9,130.5 369.0,138.7 369.1,144.0 369.2,141.9 369.4,126.3 369.5,140.0 369.6,128.4 369.8,135.3 369.9,127.9 370.0,137.1 370.2,127.4 370.3,137.5 370.4,127.5 370.5,140.6 370.7,132.6 370.8,140.1 370.9,133.1 371.1,142.2 371.2,130.5 371.3,140.2 371.4,133.1 371.6,139.8 371.7,130.0 371.8,144.6 372.0,133.9 372.1,140.4 372.2,127.9 372.3,139.9 372.5,127.9 372.6,144.4 372.7,129.0 372.9,137.5 373.0,133.4 373.1,141.8 373.3,131.7 373.4,141.1 373.5,132.9 373.6,143.6 373.8,128.6 373.9,141.9 374.0,133.1 374.2,143.9 374.3,131.0 374.4,140.5 374.5,133.4 374.7,138.5 374.8,135.2 374.9,141.1 375.1,132.9 375.2,140.8 375.3,131.9 375.5,138.2 375.6,132.9 375.7,140.6 375.8,131.5 376.0,143.4 376.1,133.9 376.2,143.9 376.4,132.8 376.5,142.3 376.6,133.2 376.7,140.9 376.9,131.9 377.0,140.5 377.1,134.3 377.3,138.1 377.4,134.9 377.5,138.7 377.6,133.5 377.8,138.4 377.9,135.5 378.0,122.2 378.2,119.0 378.3,121.4 378.4,134.1 378.6,139.0 378.7,134.2 378.8,137.6 378.9,128.3 379.1,136.7 379.2,132.0 379.3,139.1 379.5,126.8 379.6,139.4 379.7,125.5 379.8,136.4 380.0,123.9 380.1,137.9 380.2,150.9 380.4,110.5 380.5,104.2 380.6,108.9 380.8,119.2 380.9,110.5 381.0,104.2 381.1,108.9 381.3,121.4 381.4,138.0 381.5,124.2 381.7,138.9 381.8,123.3 381.9,136.1 382.0,121.2 382.2,141.2 382.3,115.7 382.4,110.8 382.6,114.5 382.7,143.0 382.8,121.5 382.9,141.9 383.1,123.4 383.2,143.6 383.3,127.2 383.5,142.6 383.6,127.9 383.7,140.7 383.9,132.5 384.0,143.0 384.1,130.1 384.2,139.6 384.4,134.2 384.5,140.5 384.6,133.7 384.8,140.6 384.9,131.6 385.0,139.6 385.1,132.9 385.3,141.5 385.4,131.3 385.5,142.2 385.7,130.9 385.8,140.3 385.9,132.6 386.0,140.7 386.2,133.0 386.3,140.4 386.4,128.4 386.6,126.7 386.7,128.0 386.8,141.1 387.0,126.8 387.1,137.2 387.2,126.7 387.3,139.8 387.5,131.1 387.6,138.5 387.7,129.2 387.9,140.7 388.0,133.1 388.1,143.7 388.2,129.5 388.4,143.8 388.5,130.0 388.6,140.8 388.8,128.8 388.9,141.5 389.0,129.0 389.2,143.9 389.3,129.7 389.4,139.4 389.5,131.9 389.7,140.6 389.8,134.3 389.9,138.9 390.1,132.6 390.2,140.2 390.3,128.4 390.4,126.7 390.6,128.0 390.7,138.6 390.8,133.7 391.0,141.4 391.1,133.9 391.2,140.8 391.3,132.7 391.5,140.4 391.6,133.5 391.7,138.6 391.9,134.1 392.0,139.9 392.1,135.0 392.3,140.9 392.4,135.5 392.5,142.7 392.6,132.7 392.8,139.8 392.9,132.7 393.0,140.4 393.2,131.7 393.3,141.3 393.4,132.4 393.5,143.2 393.7,134.5 393.8,141.2 393.9,133.3 394.1,142.0 394.2,132.5 394.3,140.7 394.5,133.9 394.6,137.5 394.7,134.5 394.8,140.3 395.0,144.0 395.1,140.7 395.2,134.5 395.4,140.6 395.5,133.4 395.6,138.0 395.7,133.7 395.9,140.1 396.0,132.8 396.1,143.4 396.3,134.4 396.4,143.1 396.5,132.2 396.6,138.1 396.8,127.5 396.9,125.6 397.0,127.0 397.2,138.8 397.3,129.8 397.4,139.8 397.6,128.6 397.7,138.7 397.8,131.1 397.9,138.0 398.1,133.2 398.2,139.6 398.3,135.3 398.5,141.1 398.6,133.1 398.7,140.2 398.8,134.1 399.0,141.4 399.1,133.4 399.2,139.8 399.4,134.5 399.5,140.7 399.6,133.1 399.8,138.8 399.9,132.7 400.0,138.1 400.1,132.7 400.3,138.8 400.4,129.2 400.5,139.9 400.7,133.0 400.8,142.6 400.9,132.5 401.0,143.1 401.2,132.1 401.3,141.0 401.4,129.0 401.6,138.2 401.7,134.2 401.8,139.3 401.9,132.7 402.1,140.2 402.2,132.6 402.3,141.0 402.5,134.1 402.6,139.3 402.7,132.8 402.9,141.0 403.0,134.0 403.1,138.9 403.2,123.3 403.4,120.3 403.5,122.6 403.6,137.1 403.8,131.8 403.9,140.2 404.0,132.1 404.1,141.3 404.3,131.6 404.4,140.3 404.5,132.7 404.7,137.3 404.8,135.2 404.9,143.5 405.1,132.6 405.2,143.8 405.3,133.4 405.4,140.5 405.6,133.7 405.7,140.2 405.8,132.6 406.0,138.4 406.1,134.6 406.2,139.9 406.3,135.6 406.5,139.1 406.6,144.0 406.7,140.7 406.9,131.5 407.0,142.0 407.1,134.9 407.2,141.6 407.4,131.3 407.5,140.7 407.6,131.3 407.8,121.6 407.9,118.2 408.0,120.8 408.2,133.9 408.3,140.5 408.4,133.3 408.5,139.8 408.7,134.5 408.8,141.2 408.9,134.2 409.1,139.7 409.2,133.5 409.3,141.3 409.4,135.6 409.6,139.9 409.7,135.3 409.8,142.6 410.0,126.5 410.1,140.2 410.2,125.8 410.4,140.3 410.5,124.4 410.6,141.8 410.7,120.6 410.9,105.9 411.0,98.6 411.1,104.1 411.3,124.1 411.4,139.0 411.5,124.8 411.6,140.6 411.8,126.2 411.9,136.2 412.0,127.0 412.2,140.5 412.3,131.9 412.4,140.5 412.5,130.1 412.7,140.6 412.8,127.9 412.9,138.9 413.1,125.4 413.2,139.2 413.3,123.8 413.5,138.7 413.6,120.9 413.7,113.5 413.8,108.0 414.0,112.1 414.1,118.9 414.2,140.7 414.4,121.3 414.5,143.5 414.6,125.4 414.7,143.4 414.9,125.9 415.0,140.3 415.1,128.8 415.3,142.0 415.4,126.2 415.5,137.0 415.6,132.1 415.8,138.8 415.9,132.0 416.0,139.6 416.2,135.4 416.3,140.6 416.4,128.5 416.6,139.5 416.7,125.4 416.8,140.0 416.9,124.5 417.1,138.4 417.2,121.4 417.3,141.8 417.5,116.1 417.6,111.2 417.7,114.8 417.8,156.6 418.0,120.4 418.1,143.6 418.2,126.0 418.4,142.7 418.5,127.7 418.6,143.4 418.8,128.3 418.9,143.1 419.0,132.0 419.1,137.5 419.3,133.4 419.4,139.9 419.5,133.2 419.7,138.7 419.8,132.9 419.9,140.8 420.0,132.5 420.2,138.1 420.3,135.2 420.4,140.4 420.6,129.0 420.7,127.5 420.8,125.6 420.9,127.0 421.1,129.7 421.2,140.0 421.3,132.9 421.5,140.6 421.6,134.1 421.7,140.5 421.9,135.4 422.0,144.9 422.1,129.8 422.2,144.4 422.4,134.6 422.5,144.9 422.6,130.0 422.8,141.8 422.9,135.6 423.0,141.9 423.1,134.5 423.3,141.7 423.4,144.0 423.5,141.5 423.7,127.9 423.8,142.2 423.9,125.5 424.1,141.5 424.2,122.8 424.3,141.5 424.4,122.9 424.6,142.0 424.7,105.9 424.8,98.6 425.0,104.1 425.1,140.8 425.2,125.0 425.3,138.7 425.5,124.1 425.6,139.4 425.7,125.7 425.9,137.7 426.0,128.3 426.1,143.6 426.2,135.2 426.4,143.4 426.5,135.4 426.6,140.6 426.8,134.1 426.9,143.3 427.0,127.8 427.2,137.5 427.3,130.0 427.4,140.1 427.5,132.6 427.7,137.5 427.8,133.0 427.9,139.3 428.1,133.6 428.2,140.5 428.3,135.2 428.4,137.8 428.6,132.7 428.7,139.8 428.8,132.9 429.0,142.7 429.1,133.8 429.2,143.2 429.4,132.9 429.5,139.0 429.6,132.4 429.7,141.0 429.9,132.4 430.0,140.6 430.1,132.7 430.3,144.2 430.4,132.5 430.5,143.5 430.6,133.1 430.8,143.8 430.9,132.3 431.0,138.8 431.2,131.6 431.3,140.6 431.4,132.4 431.5,140.5 431.7,126.7 431.8,124.5 431.9,126.1 432.1,140.5 432.2,133.1 432.3,140.7 432.5,133.5 432.6,140.0 432.7,135.6 432.8,140.1 433.0,130.8 433.1,139.2 433.2,132.2 433.4,141.1 433.5,131.1 433.6,140.6 433.7,131.9 433.9,137.8 434.0,134.4 434.1,143.4 434.3,133.0 434.4,140.7 434.5,132.7 434.7,141.3 434.8,133.6 434.9,143.1 435.0,133.8 435.2,141.6 435.3,131.0 435.4,139.0 435.6,131.3 435.7,141.3 435.8,131.1 435.9,139.9 436.1,131.9 436.2,141.5 436.3,129.8 436.5,139.0 436.6,129.2 436.7,143.5 436.8,131.1 437.0,139.0 437.1,131.9 437.2,139.1 437.4,135.0 437.5,143.3 437.6,127.2 437.8,142.0 437.9,126.4 438.0,139.6 438.1,125.0 438.3,143.3 438.4,122.6 438.5,100.3 438.7,91.5 438.8,98.1 438.9,122.2 439.0,142.3 439.2,125.9 439.3,142.5 439.4,127.3 439.6,139.1 439.7,127.7 439.8,138.8 440.0,132.9 440.1,138.5 440.2,131.2 440.3,139.5 440.5,132.5 440.6,140.7 440.7,130.6 440.9,138.3 441.0,135.9 441.1,141.1 441.2,132.7 441.4,141.2 441.5,134.9 441.6,139.1 441.8,132.8 441.9,138.7 442.0,130.2 442.1,138.9 442.3,130.8 442.4,143.9 442.5,134.5 442.7,143.8 442.8,129.8 442.9,142.9 443.1,132.8 443.2,143.0 443.3,133.3 443.4,142.6 443.6,134.5 443.7,140.4 443.8,132.7 444.0,139.3 444.1,133.5 444.2,137.6 444.3,134.6 444.5,140.5 444.6,124.5 444.7,121.8 444.9,123.9 445.0,141.9 445.1,132.7 445.2,139.5 445.4,132.2 445.5,140.6 445.6,134.2 445.8,143.8 445.9,134.2 446.0,142.4 446.2,132.4 446.3,140.4 446.4,133.6 446.5,140.6 446.7,131.5"/>
<path stroke-width="3.5" d="M59.0,354.6 59.3,354.2 59.5,354.2 59.8,354.1 60.1,353.6 60.3,353.6 60.6,353.5 60.8,352.9 61.1,353.0 61.4,353.1 61.6,353.2 61.9,353.3 62.1,353.3 62.4,353.0 62.6,353.5 62.9,353.6 63.2,353.2 63.4,354.2 63.7,354.2 63.9,354.3 64.2,354.4 64.5,354.9 64.7,354.6 65.0,354.0 65.2,354.1 65.5,354.1 65.8,354.4 66.0,353.9 66.3,354.2 66.5,353.7 66.8,353.5 67.0,353.4 67.3,353.4 67.6,353.4 67.8,353.2 68.1,353.2 68.3,353.5 68.6,353.6 68.9,353.8 69.1,354.0 69.4,354.1 69.6,353.9 69.9,354.1 70.1,354.1 70.4,354.6 70.7,354.4 70.9,354.8 71.2,354.5 71.4,354.3 71.7,354.4 72.0,353.8 72.2,353.6 72.5,353.4 72.7,353.8 73.0,353.9 73.2,353.6 73.5,353.6 73.8,353.6 74.0,353.5 74.3,353.6 74.5,353.3 74.8,353.1 75.1,353.7 75.3,353.7 75.6,353.6 75.8,354.4 76.1,354.4 76.3,354.2 76.6,354.3 76.9,354.5 77.1,354.0 77.4,354.1 77.6,354.0 77.9,354.3 78.2,354.4 78.4,354.4 78.7,354.3 78.9,353.5 79.2,353.4 79.5,353.6 79.7,353.4 80.0,353.3 80.2,353.5 80.5,353.3 80.7,353.8 81.0,353.4 81.3,353.2 81.5,353.0 81.8,352.9 82.0,353.6 82.3,353.7 82.6,353.3 82.8,353.7 83.1,353.8 83.3,353.6 83.6,352.9 83.8,352.7 84.1,351.8 84.4,351.4 84.6,351.3 84.9,351.3 85.1,351.9 85.4,352.5 85.7,353.1 85.9,353.8 86.2,354.4 86.4,354.2 86.7,354.2 86.9,354.3 87.2,354.4 87.5,354.9 87.7,354.7 88.0,354.4 88.2,354.3 88.5,354.4 88.8,353.8 89.0,354.0 89.3,353.5 89.5,353.6 89.8,353.5 90.1,353.9 90.3,353.2 90.6,353.0 90.8,352.5 91.1,352.0 91.3,351.8 91.6,351.3 91.9,351.0 92.1,350.6 92.4,349.9 92.6,349.7 92.9,348.5 93.2,348.4 93.4,347.1 93.7,346.0 93.9,345.7 94.2,345.0 94.4,344.0 94.7,343.1 95.0,344.3 95.2,344.8 95.5,345.1 95.7,345.9 96.0,345.8 96.3,346.4 96.5,347.6 96.8,349.1 97.0,351.0 97.3,352.3 97.5,353.2 97.8,354.5 98.1,354.5 98.3,354.8 98.6,355.0 98.8,355.5 99.1,355.3 99.4,356.1 99.6,355.8 99.9,355.4 100.1,354.8 100.4,354.3 100.7,354.4 100.9,354.1 101.2,353.6 101.4,352.9 101.7,352.5 101.9,352.1 102.2,351.7 102.5,352.2 102.7,351.8 103.0,352.3 103.2,352.7 103.5,352.6 103.8,353.1 104.0,353.2 104.3,352.9 104.5,352.5 104.8,352.5 105.0,352.0 105.3,352.3 105.6,353.1 105.8,354.3 106.1,355.1 106.3,356.0 106.6,356.5 106.9,356.8 107.1,357.0 107.4,356.1 107.6,355.3 107.9,353.8 108.1,353.5 108.4,352.7 108.7,351.7 108.9,350.4 109.2,350.8 109.4,351.6 109.7,353.0 110.0,354.1 110.2,355.2 110.5,354.2 110.7,354.0 111.0,353.4 111.2,352.7 111.5,351.6 111.8,350.6 112.0,349.8 112.3,349.7 112.5,350.3 112.8,350.4 113.1,350.6 113.3,352.1 113.6,353.8 113.8,355.0 114.1,356.1 114.4,357.7 114.6,358.7 114.9,359.2 115.1,357.4 115.4,356.6 115.6,355.0 115.9,353.5 116.2,352.6 116.4,350.5 116.7,349.6 116.9,348.0 117.2,347.1 117.5,348.8 117.7,350.0 118.0,351.5 118.2,352.5 118.5,353.5 118.7,354.9 119.0,355.2 119.3,356.7 119.5,355.6 119.8,355.2 120.0,354.7 120.3,354.8 120.6,354.1 120.8,353.7 121.1,352.8 121.3,352.4 121.6,352.3 121.8,352.4 122.1,353.4 122.4,354.3 122.6,354.7 122.9,355.8 123.1,355.3 123.4,355.0 123.7,354.9 123.9,354.4 124.2,354.0 124.4,353.2 124.7,353.0 125.0,352.9 125.2,352.9 125.5,352.9 125.7,353.4 126.0,353.1 126.2,353.5 126.5,353.3 126.8,353.2 127.0,354.0 127.3,353.9 127.5,354.3 127.8,353.8 128.1,354.4 128.3,354.0 128.6,354.0 128.8,353.4 129.1,353.8 129.3,353.7 129.6,353.8 129.9,354.4 130.1,353.9 130.4,354.1 130.6,353.7 130.9,354.0 131.2,353.9 131.4,353.2 131.7,353.5 131.9,353.6 132.2,353.9 132.4,354.0 132.7,353.6 133.0,353.9 133.2,353.2 133.5,353.1 133.7,353.6 134.0,353.2 134.3,353.5 134.5,353.9 134.8,354.0 135.0,354.0 135.3,354.5 135.5,354.1 135.8,354.3 136.1,353.9 136.3,354.5 136.6,354.1 136.8,354.7 137.1,354.6 137.4,354.8 137.6,354.4 137.9,354.1 138.1,353.8 138.4,354.0 138.7,353.7 138.9,353.5 139.2,354.2 139.4,354.2 139.7,354.2 139.9,354.1 140.2,353.7 140.5,353.8 140.7,354.1 141.0,354.3 141.2,354.5 141.5,354.2 141.8,354.8 142.0,354.8 142.3,354.6 142.5,354.3 142.8,354.2 143.0,354.4 143.3,354.5 143.6,354.6 143.8,354.9 144.1,355.3 144.3,355.6 144.6,355.5 144.9,355.2 145.1,354.9 145.4,353.7 145.6,353.5 145.9,353.0 146.1,351.9 146.4,351.7 146.7,351.4 146.9,351.0 147.2,351.3 147.4,351.2 147.7,351.2 148.0,351.6 148.2,351.8 148.5,352.3 148.7,352.9 149.0,353.2 149.3,353.7 149.5,353.6 149.8,353.5 150.0,354.0 150.3,354.0 150.5,354.3 150.8,354.7 151.1,354.6 151.3,354.4 151.6,354.5 151.8,354.1 152.1,354.4 152.4,353.8 152.6,354.2 152.9,353.2 153.1,353.0 153.4,353.2 153.6,352.6 153.9,352.4 154.2,351.6 154.4,351.6 154.7,350.9 154.9,350.1 155.2,349.4 155.5,348.8 155.7,347.8 156.0,347.0 156.2,345.6 156.5,344.6 156.7,343.9 157.0,343.3 157.3,342.9 157.5,343.4 157.8,343.4 158.0,344.1 158.3,344.8 158.6,344.9 158.8,346.0 159.1,347.0 159.3,348.8 159.6,350.4 159.8,352.6 160.1,353.9 160.4,355.1 160.6,354.8 160.9,355.3 161.1,354.9 161.4,354.7 161.7,355.0 161.9,354.5 162.2,354.8 162.4,354.5 162.7,355.2 163.0,355.3 163.2,354.6 163.5,355.0 163.7,354.5 164.0,354.3 164.2,354.4 164.5,354.7 164.8,355.1 165.0,355.3 165.3,355.4 165.5,355.2 165.8,355.1 166.1,354.4 166.3,354.5 166.6,354.0 166.8,353.7 167.1,353.9 167.3,353.3 167.6,353.0 167.9,352.8 168.1,352.4 168.4,352.2 168.6,352.0 168.9,351.1 169.2,351.1 169.4,351.0 169.7,350.9 169.9,350.8 170.2,350.7 170.4,350.1 170.7,349.8 171.0,350.0 171.2,349.9 171.5,350.3 171.7,350.1 172.0,350.7 172.3,350.4 172.5,350.3 172.8,350.5 173.0,350.3 173.3,350.0 173.6,350.2 173.8,349.8 174.1,350.3 174.3,350.7 174.6,350.7 174.8,351.0 175.1,351.5 175.4,351.3 175.6,351.1 175.9,351.1 176.1,351.4 176.4,351.9 176.7,352.1 176.9,352.9 177.2,353.0 177.4,353.2 177.7,353.4 177.9,353.8 178.2,353.2 178.5,353.2 178.7,353.4 179.0,353.5 179.2,354.1 179.5,354.0 179.8,353.7 180.0,353.4 180.3,353.2 180.5,353.1 180.8,353.6 181.0,353.6 181.3,353.4 181.6,354.0 181.8,353.7 182.1,354.1 182.3,353.9 182.6,353.6 182.9,354.0 183.1,353.9 183.4,353.8 183.6,353.7 183.9,354.2 184.2,354.1 184.4,354.2 184.7,353.6 184.9,353.9 185.2,353.1 185.4,353.2 185.7,353.3 186.0,353.2 186.2,353.3 186.5,353.8 186.7,354.1 187.0,353.5 187.3,353.4 187.5,353.6 187.8,353.3 188.0,353.6 188.3,354.0 188.5,354.0 188.8,354.0 189.1,354.0 189.3,354.4 189.6,354.6 189.8,354.5 190.1,353.8 190.4,354.0 190.6,354.1 190.9,354.0 191.1,354.4 191.4,354.2 191.6,354.3 191.9,354.1 192.2,354.7 192.4,354.7 192.7,354.8 192.9,355.0 193.2,356.0 193.5,356.8 193.7,358.2 194.0,359.1 194.2,359.9 194.5,361.0 194.7,360.8 195.0,360.2 195.3,359.3 195.5,357.9 195.8,357.1 196.0,355.8 196.3,355.1 196.6,353.9 196.8,352.3 197.1,351.3 197.3,349.9 197.6,350.0 197.9,350.6 198.1,352.1 198.4,352.6 198.6,353.1 198.9,353.9 199.1,355.1 199.4,356.0 199.7,356.5 199.9,355.2 200.2,354.8 200.4,353.8 200.7,352.5 201.0,351.7 201.2,350.8 201.5,349.1 201.7,347.9 202.0,347.0 202.2,346.4 202.5,345.4 202.8,346.0 203.0,347.8 203.3,349.0 203.5,350.2 203.8,351.1 204.1,352.6 204.3,353.6 204.6,353.7 204.8,353.1 205.1,352.6 205.3,352.6 205.6,352.2 205.9,351.6 206.1,351.2 206.4,350.8 206.6,350.5 206.9,349.9 207.2,350.0 207.4,350.6 207.7,351.1 207.9,351.4 208.2,351.8 208.5,351.2 208.7,350.9 209.0,350.1 209.2,350.0 209.5,349.6 209.7,349.3 210.0,349.7 210.3,350.3 210.5,351.6 210.8,352.0 211.0,352.6 211.3,353.3 211.6,354.3 211.8,355.5 212.1,356.7 212.3,357.5 212.6,357.3 212.8,356.1 213.1,355.5 213.4,354.5 213.6,353.6 213.9,352.9 214.1,352.5 214.4,351.9 214.7,350.9 214.9,350.2 215.2,349.8 215.4,348.9 215.7,348.0 215.9,347.1 216.2,346.4 216.5,345.5 216.7,344.8 217.0,344.5 217.2,343.6 217.5,344.8 217.8,344.9 218.0,345.5 218.3,346.1 218.5,346.5 218.8,346.7 219.0,347.5 219.3,348.0 219.6,349.5 219.8,350.3 220.1,350.8 220.3,351.4 220.6,352.0 220.9,352.9 221.1,353.9 221.4,355.0 221.6,355.2 221.9,355.1 222.2,354.6 222.4,354.4 222.7,354.0 222.9,354.2 223.2,353.5 223.4,353.5 223.7,353.7 224.0,354.5 224.2,354.7 224.5,354.4 224.7,354.9 225.0,354.9 225.3,354.5 225.5,354.4 225.8,354.9 226.0,354.8 226.3,354.6 226.5,355.0 226.8,354.4 227.1,354.1 227.3,353.8 227.6,353.2 227.8,352.8 228.1,352.9 228.4,352.8 228.6,352.5 228.9,352.7 229.1,352.9 229.4,352.5 229.6,352.5 229.9,352.3 230.2,351.9 230.4,351.7 230.7,352.2 230.9,352.3 231.2,352.6 231.5,353.5 231.7,354.9 232.0,355.8 232.2,356.0 232.5,357.1 232.8,358.0 233.0,357.4 233.3,355.4 233.5,353.9 233.8,352.3 234.0,350.3 234.3,348.4 234.6,346.3 234.8,344.5 235.1,342.9 235.3,341.4 235.6,341.6 235.9,343.4 236.1,344.2 236.4,346.1 236.6,346.7 236.9,348.2 237.1,347.3 237.4,347.2 237.7,346.9 237.9,347.8 238.2,349.5 238.4,350.5 238.7,351.1 239.0,352.3 239.2,352.9 239.5,353.9 239.7,352.5 240.0,352.1 240.2,351.4 240.5,351.2 240.8,350.7 241.0,350.1 241.3,349.2 241.5,348.6 241.8,348.4 242.1,347.6 242.3,347.4 242.6,347.6 242.8,347.1 243.1,347.2 243.3,346.2 243.6,347.0 243.9,348.0 244.1,349.0 244.4,350.3 244.6,351.6 244.9,353.2 245.2,354.7 245.4,356.1 245.7,356.7 245.9,355.7 246.2,354.3 246.5,353.3 246.7,351.6 247.0,350.8 247.2,349.8 247.5,348.8 247.7,348.2 248.0,346.6 248.3,346.7 248.5,347.2 248.8,348.0 249.0,349.1 249.3,350.0 249.6,350.9 249.8,351.8 250.1,353.4 250.3,353.9 250.6,353.6 250.8,353.9 251.1,353.7 251.4,353.5 251.6,353.6 251.9,354.0 252.1,353.2 252.4,352.8 252.7,352.7 252.9,351.7 253.2,351.1 253.4,350.3 253.7,350.1 253.9,349.6 254.2,349.5 254.5,349.6 254.7,349.5 255.0,349.8 255.2,349.4 255.5,349.4 255.8,348.8 256.0,348.8 256.3,348.1 256.5,348.1 256.8,349.4 257.1,349.9 257.3,350.6 257.6,351.1 257.8,351.6 258.1,351.9 258.3,352.5 258.6,353.6 258.9,354.4 259.1,354.8 259.4,354.9 259.6,354.2 259.9,354.2 260.2,353.4 260.4,353.1 260.7,352.4 260.9,352.2 261.2,351.5 261.4,351.4 261.7,351.4 262.0,351.4 262.2,351.8 262.5,352.2 262.7,352.2 263.0,352.4 263.3,352.8 263.5,352.9 263.8,353.1 264.0,353.5 264.3,354.0 264.5,354.0 264.8,354.2 265.1,354.0 265.3,354.1 265.6,354.6 265.8,354.8 266.1,354.9 266.4,354.6 266.6,355.1 266.9,354.6 267.1,355.1 267.4,354.9 267.7,354.5 267.9,354.0 268.2,354.3 268.4,353.8 268.7,354.3 268.9,354.1 269.2,353.6 269.5,354.1 269.7,353.5 270.0,353.6 270.2,353.4 270.5,353.3 270.8,353.7 271.0,353.4 271.3,354.1 271.5,353.7 271.8,353.5 272.0,353.6 272.3,353.3 272.6,353.2 272.8,353.6 273.1,353.3 273.3,353.4 273.6,353.6 273.9,353.6 274.1,354.0 274.4,353.8 274.6,353.6 274.9,353.6 275.1,353.2 275.4,353.5 275.7,353.3 275.9,353.9 276.2,354.0 276.4,353.9 276.7,353.5 277.0,353.4 277.2,354.0 277.5,353.9 277.7,354.1 278.0,354.6 278.2,354.3 278.5,354.8 278.8,354.7 279.0,354.8 279.3,354.4 279.5,354.1 279.8,354.6 280.1,354.1 280.3,354.5 280.6,354.7 280.8,354.2 281.1,354.5 281.4,354.1 281.6,353.8 281.9,353.7 282.1,354.2 282.4,353.9 282.6,354.2 282.9,354.5 283.2,354.3 283.4,354.9 283.7,354.9 283.9,354.9 284.2,354.4 284.5,354.2 284.7,354.4 285.0,354.7 285.2,354.7 285.5,354.5 285.7,354.5 286.0,354.0 286.3,354.3 286.5,353.7 286.8,353.6 287.0,353.7 287.3,353.3 287.6,353.8 287.8,353.5 288.1,353.8 288.3,353.2 288.6,353.2 288.8,353.3 289.1,353.2 289.4,353.2 289.6,353.5 289.9,353.4 290.1,353.7 290.4,353.4 290.7,353.9 290.9,353.4 291.2,353.6 291.4,353.3 291.7,353.2 292.0,353.3 292.2,352.9 292.5,353.4 292.7,353.0 293.0,353.2 293.2,353.0 293.5,352.7 293.8,352.7 294.0,352.4 294.3,352.7 294.5,353.2 294.8,352.8 295.1,352.9 295.3,353.2 295.6,353.3 295.8,353.0 296.1,353.1 296.3,353.6 296.6,353.4 296.9,353.4 297.1,353.6 297.4,353.9 297.6,353.6 297.9,353.6 298.2,353.5 298.4,353.3 298.7,353.3 298.9,353.6 299.2,353.2 299.4,353.9 299.7,353.4 300.0,353.2 300.2,353.6 300.5,353.3 300.7,353.2 301.0,352.9 301.3,353.5 301.5,353.3 301.8,353.7 302.0,353.4 302.3,353.6 302.5,353.5 302.8,353.1 303.1,353.0 303.3,352.6 303.6,352.9 303.8,353.0 304.1,352.6 304.4,352.8 304.6,352.8 304.9,352.3 305.1,352.7 305.4,352.6 305.7,352.0 305.9,352.3 306.2,352.4 306.4,352.8 306.7,352.8 306.9,353.2 307.2,353.1 307.5,353.1 307.7,353.2 308.0,353.2 308.2,353.7 308.5,353.8 308.8,353.6 309.0,353.8 309.3,353.6 309.5,353.7 309.8,353.4 310.0,353.6 310.3,353.5 310.6,353.6 310.8,353.0 311.1,353.0 311.3,353.5 311.6,353.3 311.9,353.6 312.1,353.0 312.4,352.9 312.6,352.7 312.9,353.4 313.1,353.2 313.4,353.4 313.7,353.5 313.9,353.7 314.2,353.5 314.4,353.0 314.7,352.5 315.0,352.5 315.2,352.7 315.5,352.2 315.7,352.3 316.0,352.3 316.3,352.3 316.5,352.4 316.8,352.1 317.0,352.3 317.3,352.5 317.5,352.1 317.8,352.6 318.1,353.3 318.3,353.6 318.6,353.2 318.8,353.7 319.1,353.7 319.4,353.8 319.6,353.6 319.9,353.4 320.1,353.7 320.4,354.2 320.6,354.3 320.9,354.0 321.2,354.2 321.4,354.1 321.7,353.9 321.9,353.3 322.2,353.5 322.5,353.5 322.7,353.8 323.0,353.7 323.2,353.7 323.5,354.0 323.7,353.7 324.0,354.0 324.3,353.5 324.5,353.8 324.8,354.1 325.0,353.8 325.3,354.4 325.6,354.1 325.8,354.7 326.1,354.0 326.3,354.3 326.6,353.9 326.9,353.7 327.1,353.9 327.4,354.0 327.6,354.0 327.9,353.8 328.1,354.0 328.4,353.6 328.7,353.9 328.9,353.3 329.2,353.3 329.4,353.2 329.7,353.8 330.0,353.6 330.2,353.9 330.5,354.1 330.7,353.8 331.0,353.9 331.2,353.5 331.5,353.4 331.8,353.4 332.0,353.8 332.3,354.3 332.5,353.9 332.8,354.0 333.1,354.1 333.3,353.5 333.6,353.2 333.8,353.3 334.1,353.2 334.3,353.5 334.6,353.4 334.9,352.9 335.1,352.9 335.4,352.6 335.6,352.1 335.9,352.1 336.2,352.3 336.4,352.0 336.7,352.5 336.9,352.9 337.2,352.8 337.4,353.6 337.7,353.1 338.0,353.3 338.2,353.6 338.5,353.1 338.7,353.4 339.0,353.3 339.3,353.7 339.5,353.5 339.8,353.6 340.0,353.5 340.3,353.2 340.6,353.1 340.8,353.1 341.1,353.3 341.3,353.2 341.6,353.9 341.8,353.8 342.1,353.8 342.4,353.9 342.6,354.3 342.9,353.7 343.1,354.2 343.4,353.8 343.7,354.5 343.9,354.3 344.2,354.5 344.4,354.8 344.7,354.1 344.9,353.9 345.2,354.1 345.5,353.9 345.7,353.8 346.0,353.5 346.2,353.7 346.5,353.6 346.8,353.8 347.0,353.6 347.3,353.7 347.5,353.4 347.8,353.3 348.0,353.5 348.3,353.3 348.6,354.0 348.8,354.1 349.1,354.1 349.3,354.1 349.6,354.4 349.9,354.4 350.1,354.5 350.4,354.2 350.6,354.4 350.9,354.8 351.2,354.5 351.4,355.4 351.7,355.8 351.9,356.2 352.2,356.5 352.4,356.4 352.7,357.2 353.0,357.7 353.2,358.0 353.5,358.0 353.7,357.0 354.0,356.4 354.3,355.4 354.5,354.2 354.8,354.0 355.0,353.0 355.3,352.7 355.5,352.6 355.8,352.0 356.1,351.8 356.3,352.0 356.6,351.6 356.8,351.9 357.1,351.3 357.4,351.6 357.6,351.7 357.9,351.9 358.1,351.6 358.4,351.9 358.6,352.6 358.9,352.2 359.2,352.3 359.4,352.3 359.7,352.6 359.9,352.9 360.2,353.1 360.5,353.3 360.7,353.8 361.0,353.9 361.2,353.7 361.5,354.2 361.7,354.1 362.0,353.9 362.3,354.0 362.5,353.7 362.8,354.1 363.0,353.7 363.3,354.1 363.6,354.0 363.8,354.0 364.1,353.7 364.3,353.6 364.6,353.1 364.9,353.6 365.1,353.5 365.4,353.6 365.6,353.8 365.9,354.1 366.1,354.1 366.4,354.1 366.7,353.9 366.9,353.6 367.2,353.7 367.4,354.1 367.7,354.0 368.0,354.1 368.2,353.9 368.5,353.8 368.7,353.9 369.0,353.4 369.2,353.7 369.5,353.3 369.8,353.7 370.0,353.3 370.3,353.3 370.5,353.3 370.8,352.9 371.1,353.0 371.3,352.9 371.6,352.6 371.8,353.3 372.1,353.2 372.3,353.2 372.6,354.1 372.9,353.7 373.1,353.7 373.4,353.4 373.6,353.4 373.9,353.8 374.2,353.8 374.4,353.9 374.7,353.8 374.9,353.9 375.2,354.4 375.5,353.8 375.7,354.1 376.0,353.8 376.2,353.2 376.5,353.6 376.7,352.9 377.0,353.4 377.3,353.5 377.5,353.3 377.8,353.0 378.0,353.0 378.3,352.3 378.6,352.2 378.8,351.6 379.1,351.3 379.3,350.8 379.6,350.7 379.8,350.1 380.1,349.6 380.4,348.7 380.6,349.0 380.9,349.7 381.1,350.0 381.4,350.4 381.7,350.9 381.9,351.9 382.2,351.9 382.4,352.0 382.7,352.4 382.9,352.9 383.2,353.4 383.5,353.6 383.7,353.9 384.0,354.4 384.2,354.4 384.5,354.3 384.8,354.3 385.0,354.5 385.3,354.0 385.5,353.8 385.8,354.1 386.0,354.3 386.3,354.0 386.6,354.4 386.8,354.5 387.1,353.8 387.3,353.6 387.6,353.6 387.9,353.3 388.1,353.7 388.4,353.8 388.6,353.5 388.9,353.9 389.2,353.9 389.4,353.6 389.7,354.1 389.9,353.4 390.2,353.3 390.4,353.7 390.7,353.5 391.0,354.0 391.2,354.2 391.5,354.7 391.7,354.3 392.0,354.5 392.3,354.3 392.5,354.0 392.8,353.6 393.0,353.7 393.3,353.9 393.5,353.9 393.8,354.1 394.1,354.0 394.3,353.7 394.6,353.8 394.8,354.0 395.1,353.4 395.4,353.5 395.6,353.5 395.9,353.7 396.1,353.9 396.4,354.2 396.6,354.4 396.9,354.2 397.2,354.3 397.4,354.1 397.7,353.9 397.9,354.0 398.2,353.6 398.5,353.9 398.7,353.8 399.0,353.8 399.2,353.2 399.5,353.3 399.8,353.0 400.0,353.0 400.3,353.0 400.5,352.8 400.8,353.3 401.0,353.4 401.3,353.1 401.6,352.6 401.8,352.8 402.1,352.9 402.3,353.0 402.6,352.9 402.9,352.5 403.1,353.1 403.4,353.0 403.6,352.7 403.9,353.0 404.1,352.8 404.4,352.8 404.7,352.3 404.9,352.6 405.2,352.6 405.4,352.6 405.7,353.0 406.0,352.9 406.2,352.2 406.5,351.9 406.7,351.8 407.0,351.2 407.2,351.3 407.5,350.9 407.8,351.1 408.0,350.3 408.3,350.3 408.5,350.3 408.8,350.5 409.1,350.8 409.3,350.8 409.6,351.0 409.8,351.5 410.1,351.7 410.4,352.1 410.6,352.4 410.9,351.8 411.1,352.1 411.4,352.6 411.6,352.1 411.9,352.9 412.2,352.6 412.4,353.4 412.7,353.8 412.9,353.6 413.2,353.9 413.5,353.8 413.7,354.3 414.0,354.4 414.2,354.8 414.5,355.0 414.7,355.2 415.0,355.4 415.3,355.1 415.5,354.9 415.8,354.0 416.0,353.9 416.3,353.5 416.6,353.2 416.8,353.4 417.1,352.9 417.3,353.1 417.6,353.0 417.8,352.9 418.1,351.9 418.4,351.8 418.6,351.8 418.9,352.1 419.1,351.7 419.4,352.3 419.7,352.1 419.9,352.3 420.2,352.5 420.4,351.8 420.7,351.8 420.9,351.6 421.2,351.6 421.5,351.7 421.7,352.1 422.0,352.1 422.2,351.9 422.5,352.5 422.8,352.2 423.0,352.0 423.3,352.5 423.5,352.6 423.8,352.4 424.1,353.3 424.3,353.5 424.6,353.3 424.8,353.3 425.1,354.0 425.3,354.1 425.6,353.7 425.9,354.4 426.1,354.7 426.4,355.0 426.6,355.4 426.9,355.8 427.2,355.1 427.4,355.2 427.7,354.9 427.9,354.1 428.2,354.1 428.4,353.9 428.7,353.9 429.0,353.6 429.2,353.2 429.5,353.0 429.7,352.9 430.0,352.3 430.3,352.5 430.5,352.4 430.8,351.9 431.0,352.3 431.3,352.4 431.5,352.1 431.8,352.7 432.1,352.7 432.3,352.3 432.6,352.1 432.8,352.3 433.1,352.8 433.4,352.7 433.6,353.1 433.9,352.7 434.1,352.6 434.4,352.6 434.7,352.6 434.9,351.7 435.2,351.4 435.4,351.7 435.7,351.1 435.9,351.5 436.2,351.0 436.5,350.9 436.7,351.0 437.0,350.9 437.2,350.6 437.5,350.9 437.8,351.1 438.0,351.8 438.3,352.3 438.5,353.1 438.8,353.5 439.0,353.8 439.3,353.9 439.6,354.3 439.8,354.1 440.1,354.4 440.3,354.1 440.6,354.0 440.9,354.1 441.1,353.5 441.4,353.2 441.6,352.8 441.9,352.9 442.1,352.5 442.4,352.3 442.7,352.2 442.9,352.7 443.2,353.0 443.4,352.9 443.7,353.2 444.0,353.4 444.2,353.1 444.5,353.2 444.7,353.2 445.0,353.8 445.2,354.2"/>
<line x1="204.1" x2="228.3" y1="239.3" y2="239.3" stroke-width="3"/>
<line x1="93" x2="116.3" y1="495.3" y2="495.3" stroke-width="3"/>
</g>
</svg>
</body></html>
